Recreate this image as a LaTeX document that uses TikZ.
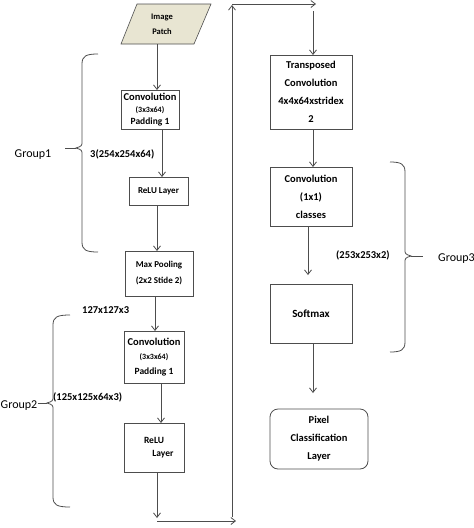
\documentclass[tikz,border=0pt]{standalone}
\usepackage{fontspec}
\setmainfont{Carlito}
\usetikzlibrary{arrows.meta}

\definecolor{linegray}{HTML}{4D4D4D}
\definecolor{patchfill}{HTML}{E8E5D2}

\tikzset{
    >={Straight Barb[length=4.5pt,width=7pt]},
    layer/.style={draw=linegray, line width=0.8pt, inner sep=0pt, outer sep=0pt, align=center,
        text=black, font=\fontsize{10.5}{18}\selectfont\bfseries},
    flow/.style={->, draw=linegray, line width=0.8pt},
    dims/.style={anchor=west, inner sep=0pt, text=black, font=\fontsize{10.5}{12}\selectfont\bfseries},
    grp/.style={inner sep=0pt, text=black, font=\fontsize{12}{14}\selectfont},
    brace/.style={draw=linegray, line width=0.8pt}
}

\begin{document}
\begin{tikzpicture}[x=1pt,y=-1pt]
    \useasboundingbox (0,0) rectangle (474,528);

    % left column
    \filldraw[fill=patchfill, draw=linegray, line width=0.6pt] (121,44) -- (137,4) -- (211,4) -- (194,44) -- cycle;
    \node[inner sep=0pt, minimum width=60pt, minimum height=40pt, align=center, text=black,
        font=\fontsize{8.5}{15}\selectfont\bfseries] (patch) at (162,24) {Image\\Patch};
    \node[layer, minimum width=58pt, minimum height=39pt, font=\fontsize{9.5}{12}\selectfont\bfseries] (conv1) at (150,109.5)
        {{\fontsize{10.5}{12}\selectfont Convolution}\\{\fontsize{8}{10}\selectfont (3x3x64)}\\Padding 1};
    \node[layer, minimum width=59pt, minimum height=28pt, font=\fontsize{9}{12}\selectfont\bfseries] (relu1) at (158.5,191) {ReLU Layer};
    \node[layer, minimum width=68pt, minimum height=45pt, font=\fontsize{9}{16}\selectfont\bfseries] (pool) at (159,273.5)
        {Max Pooling\\(2x2 Stide 2)};
    \node[layer, minimum width=60pt, minimum height=52pt, font=\fontsize{9.5}{14.5}\selectfont\bfseries] (conv2) at (154,357)
        {{\fontsize{10.5}{12}\selectfont Convolution}\\{\fontsize{8}{10}\selectfont (3x3x64)}\\Padding 1};
    \node[layer, minimum width=60pt, minimum height=49pt, font=\fontsize{9.5}{12.5}\selectfont\bfseries] (relu2) at (154,447.5)
        {ReLU\\\hspace*{18pt}Layer};

    % right column
    \node[layer, minimum width=82pt, minimum height=74pt] (tconv) at (311,92)
        {Transposed\\Convolution\\4x4x64xstridex\\2};
    \node[layer, minimum width=82pt, minimum height=59pt] (conv3) at (311,196.5)
        {Convolution\\(1x1)\\classes};
    \node[layer, minimum width=82pt, minimum height=59pt, font=\fontsize{11}{18}\selectfont\bfseries] (soft) at (311,313.5) {Softmax};
    \node[layer, rounded corners=8pt, minimum width=98pt, minimum height=60pt] (pixel) at (319,439)
        {Pixel\\Classification\\Layer};

    % sizes
    \node[dims] (d1) at (90,154) {3(254x254x64)};
    \node[dims] (d2) at (82,310) {127x127x3};
    \node[dims] (d3) at (53,397) {(125x125x64x3)};
    \node[dims] (d4) at (336,255) {(253x253x2)};

    % flow
    \draw[flow] ([xshift=-5pt]patch.south) -- ([xshift=-5pt]patch.south |- conv1.north);
    \draw[flow] ([xshift=12pt]conv1.south) -- ([xshift=12pt]conv1.south |- relu1.north);
    \draw[flow] ([xshift=-1.5pt]relu1.south) -- ([xshift=-1.5pt]relu1.south |- pool.north);
    \draw[flow] ([xshift=-4pt]pool.south) -- ([xshift=-4pt]pool.south |- conv2.north);
    \draw[flow] ([xshift=7pt]conv2.south) -- ([xshift=7pt]conv2.south |- relu2.north);
    \coordinate (drop) at (157,518);
    \draw[flow] ([xshift=3pt]relu2.south) -- (drop);
    \coordinate (turn0) at (157,521);
    \coordinate (turn1) at (236,521);
    \coordinate (up0) at (232,517);
    \coordinate (up1) at (232,5);
    \coordinate (top0) at (232,4);
    \coordinate (top1) at (316,4);
    \coordinate (down0) at (313,11);
    \draw[flow] (turn0) -- (turn1);
    \draw[flow] (up0) -- (up1);
    \draw[flow] (top0) -- (top1);
    \draw[flow] (down0) -- ([xshift=2pt]tconv.north);
    \draw[flow] ([xshift=2pt]tconv.south) -- ([xshift=2pt]conv3.north);
    \draw[flow] ([xshift=-3pt]conv3.south) -- ++(0,49);
    \draw[flow] ([xshift=2pt]soft.south) -- ++(0,50);

    % groups
    \node[grp] (g1) at (33,155) {Group1};
    \draw[brace] (98,54) .. controls (86,54) and (82,56) .. (82,64) -- (82,141)
        .. controls (82,146) .. (76,148) .. controls (82,150) .. (82,155) -- (82,242)
        .. controls (82,250) and (86,252) .. (98,252);
    \draw[brace] (65,148) -- (76,148);

    \node[grp] (g2) at (19,406) {Group2};
    \draw[brace] (70,315) .. controls (57,315) and (53,317) .. (53,325) -- (53,396)
        .. controls (53,401) .. (47,403) .. controls (53,405) .. (53,410) -- (53,497)
        .. controls (53,505) and (57,507) .. (70,507);
    \draw[brace] (38,403) -- (47,403);

    \node[grp, anchor=west] (g3) at (438,259) {Group3};
    \draw[brace] (390,162) .. controls (401,162) and (405,164) .. (405,172) -- (405,249)
        .. controls (405,254) .. (411,256) .. controls (405,258) .. (405,263) -- (405,342)
        .. controls (405,350) and (401,352) .. (390,352);
    \draw[brace] (411,256) -- (423,256);
\end{tikzpicture}
\end{document}
